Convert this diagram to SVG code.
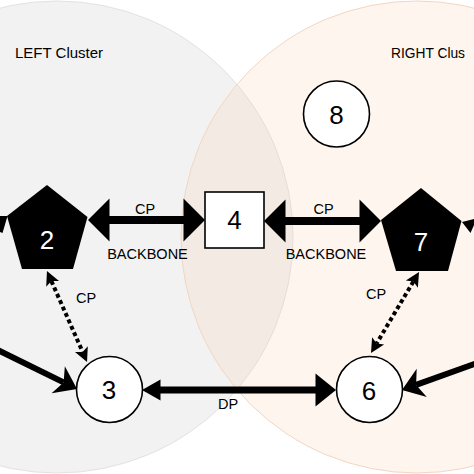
<svg xmlns="http://www.w3.org/2000/svg" width="474" height="474" viewBox="0 0 474 474">
<defs>
<style>
.lbl{font-family:"Liberation Sans",Arial,sans-serif;font-size:14.5px;fill:#000;text-anchor:middle}
.cl{font-family:"Liberation Sans",Arial,sans-serif;font-size:15px;fill:#000}
.num{font-family:"Liberation Sans",Arial,sans-serif;font-size:26px;text-anchor:middle}
.nb{fill:#000}
.nw{fill:#fff}
.circ{fill:#fff;stroke:#000;stroke-width:1.6}
.thick{fill:none;stroke:#000;stroke-width:8}
.dp{fill:none;stroke:#000;stroke-width:7}
.in{fill:none;stroke:#000;stroke-width:6}
.dot{fill:none;stroke:#000;stroke-width:4;stroke-dasharray:4 3}
</style>
<marker id="big" markerUnits="userSpaceOnUse" viewBox="-1 -22 23 44" markerWidth="23" markerHeight="44" refX="0" refY="0" orient="auto-start-reverse" overflow="visible">
<path d="M-0.5,-21.5 L21,0 L-0.5,21.5 z" fill="#000"/>
</marker>
<marker id="dpS" markerUnits="userSpaceOnUse" viewBox="-1 -12 20 24" markerWidth="20" markerHeight="24" refX="0" refY="0" orient="auto-start-reverse" overflow="visible">
<path d="M-0.5,-10.5 L18,0 L-0.5,10.5 z" fill="#000"/>
</marker>
<marker id="dpL" markerUnits="userSpaceOnUse" viewBox="-1 -17 22 34" markerWidth="22" markerHeight="34" refX="0" refY="0" orient="auto" overflow="visible">
<path d="M-0.5,-16.5 L20,0 L-0.5,16.5 z" fill="#000"/>
</marker>
<marker id="stl" markerUnits="userSpaceOnUse" viewBox="-7 -16 23 32" markerWidth="23" markerHeight="32" refX="0" refY="0" orient="auto" overflow="visible">
<path d="M15,0 L-6,-15 L0,0 L-6,15 z" fill="#000"/>
</marker>
<marker id="sm" markerUnits="userSpaceOnUse" viewBox="-4 -8 16 16" markerWidth="16" markerHeight="16" refX="0" refY="0" orient="auto-start-reverse" overflow="visible">
<path d="M11,0 L-3,-7 L0,0 L-3,7 z" fill="#000"/>
</marker>
</defs>

<g id="clusters">
<circle id="left-cluster" cx="57" cy="237" r="236" fill="#f2f2f2" stroke="#e2e2e2" stroke-width="1"/>
<circle id="right-cluster" cx="417" cy="237" r="236" fill="#f8cbad" fill-opacity="0.2" stroke="#f2d6c2" stroke-width="1"/>
<text class="cl" x="15" y="58">LEFT Cluster</text>
<text class="cl" x="391" y="58" textLength="74" lengthAdjust="spacingAndGlyphs">RIGHT Clus</text>
</g>

<g id="connectors">
<path class="thick" d="M109,220 L184,220" marker-start="url(#big)" marker-end="url(#big)"/>
<path class="thick" d="M285,221 L360,221" marker-start="url(#big)" marker-end="url(#big)"/>
<path class="dp" d="M160,390 L316,390" marker-start="url(#dpS)" marker-end="url(#dpL)"/>
<path class="dot" d="M51.4,281.1 L82.6,351.9" marker-start="url(#sm)" marker-end="url(#sm)"/>
<path class="dot" d="M413.4,281.5 L376.6,343.5" marker-start="url(#sm)" marker-end="url(#sm)"/>
<path class="in" d="M-5,348.6 L63.6,382.4" marker-end="url(#stl)"/>
<path class="in" d="M480,362 L416.1,384.9" marker-end="url(#stl)"/>
<polygon points="0,216 7.5,216 2.5,233 0,232" fill="#000"/>
<polygon points="462,222 474,219 474,225 470.5,233" fill="#000"/>
<text class="lbl" x="145" y="214">CP</text>
<text class="lbl" x="147.5" y="259">BACKBONE</text>
<text class="lbl" x="323.5" y="214">CP</text>
<text class="lbl" x="326" y="259">BACKBONE</text>
<text class="lbl" x="86" y="303">CP</text>
<text class="lbl" x="376" y="299">CP</text>
<text class="lbl" x="228" y="409">DP</text>
</g>

<g id="node2">
<polygon class="nb" points="47,185 87.5,217 73,269 22,269 7,216"/>
<text class="num nw" x="47" y="248.5">2</text>
</g>
<g id="node4">
<rect x="205" y="192" width="59" height="56" fill="#fff" stroke="#000" stroke-width="1.6"/>
<text class="num" x="234.5" y="229">4</text>
</g>
<g id="node7">
<polygon class="nb" points="421,188 461.5,221 448,271 396,271 381,220"/>
<text class="num nw" x="421" y="251">7</text>
</g>
<g id="node8">
<circle class="circ" cx="336.5" cy="114" r="33"/>
<text class="num" x="336.5" y="124">8</text>
</g>
<g id="node3">
<circle class="circ" cx="109.5" cy="389.5" r="33"/>
<text class="num" x="109" y="399">3</text>
</g>
<g id="node6">
<circle class="circ" cx="369.5" cy="389.5" r="33"/>
<text class="num" x="369" y="399.5">6</text>
</g>
</svg>
